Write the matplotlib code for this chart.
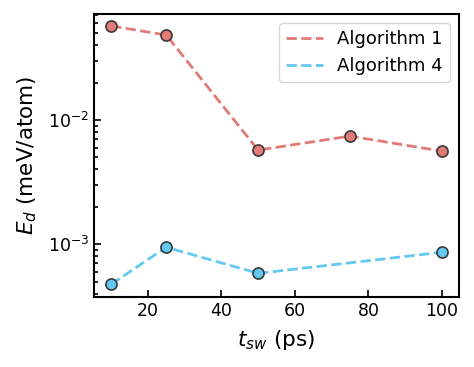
import matplotlib
matplotlib.use('Agg')
import matplotlib.pyplot as plt

t_sw = [10, 25, 50, 75, 100]
alg1 = [0.0573, 0.0484, 0.00573, 0.00743, 0.00562]
t_sw4 = [10, 25, 50, 100]
alg4 = [4.76e-4, 9.46e-4, 5.83e-4, 8.62e-4]

red = '#e27a76'
blue = '#62c9f1'

fig, ax = plt.subplots(figsize=(4.74, 3.67), dpi=100)

ax.plot(t_sw, alg1, '--', c=red, lw=2, label='Algorithm 1')
ax.plot(t_sw, alg1, 'o', c=red, mec='#3a3a3a', ms=8, mew=1.2)
ax.plot(t_sw4, alg4, '--', c=blue, lw=2, label='Algorithm 4')
ax.plot(t_sw4, alg4, 'o', c=blue, mec='#3a3a3a', ms=8, mew=1.2)

ax.set_yscale('log')
ax.set_ylim(3.74e-4, 0.0716)
ax.set_xlim(5.3, 104.6)
ax.set_xticks([20, 40, 60, 80, 100])

ax.set_xlabel(r'$t_{sw}$ (ps)', fontsize=15.5, labelpad=6)
ax.set_ylabel(r'$E_d$ (meV/atom)', fontsize=15.5, labelpad=6)
ax.tick_params(which='both', direction='in', labelsize=12.5, width=1.2)
ax.tick_params(which='major', length=5)
ax.tick_params(which='minor', length=3)
for s in ax.spines.values():
    s.set_linewidth(1.5)

ax.legend(fontsize=13, loc='upper right')

fig.subplots_adjust(left=0.198, right=0.968, top=0.962, bottom=0.19)
fig.savefig('out.png', dpi=100)
